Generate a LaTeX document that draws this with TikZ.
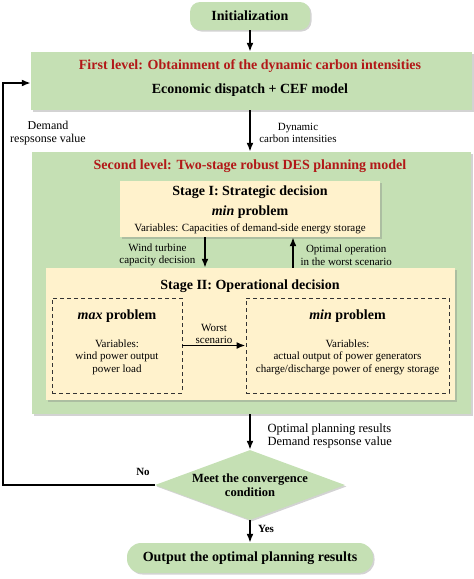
\documentclass[tikz,border=0pt]{standalone}
\usepackage{fontspec}
\setmainfont{Liberation Serif}
\usepackage{tikz}
\usetikzlibrary{shapes,shapes.geometric}
\usetikzlibrary{arrows.meta}
\usetikzlibrary{shadows}
\definecolor{levelgreen}{RGB}{197,224,180}
\definecolor{stageyellow}{RGB}{255,242,204}
\definecolor{titlered}{RGB}{178,24,24}
\tikzset{
	greenbox/.style={fill=levelgreen,draw=none,drop shadow={opacity=0.35,shadow xshift=1.5pt,shadow yshift=-1.5pt}},
	yellowbox/.style={fill=stageyellow,draw=none,drop shadow={opacity=0.35,shadow xshift=1.5pt,shadow yshift=-1.5pt}},
	dashbox/.style={draw=black!80,line width=0.9pt,dash pattern=on 4pt off 3pt},
	headtext/.style={font=\fontsize{14}{16}\selectfont\bfseries},
	redtext/.style={headtext,text=titlered},
	smalltext/.style={font=\fontsize{11}{12.5}\selectfont,align=center},
	arr/.style={line width=1.8pt,-{Latex[length=9pt,width=7pt]}}
}
\begin{document}
\begin{tikzpicture}[x=1pt,y=-1pt]
	\useasboundingbox (0,0) rectangle (474,579);
	
	\node[greenbox,rounded corners=10pt,minimum width=120pt,minimum height=28pt,headtext] (init) at (250,16) {Initialization};
	
	\node[greenbox,minimum width=441pt,minimum height=58pt] (first) at (251.5,81) {};
	\node[redtext] (firsttitle) at (250,66) {First level: Obtainment of the dynamic carbon intensities};
	\node[headtext] (firstmodel) at (250,90) {Economic dispatch + CEF model};
	
	\node[greenbox,minimum width=439pt,minimum height=262pt] (second) at (251.5,283) {};
	\node[redtext] (secondtitle) at (250,166) {Second level: Two-stage robust DES planning model};
	
	\node[yellowbox,minimum width=260pt,minimum height=56pt] (stageI) at (250,209) {};
	\node[headtext] (stageItitle) at (250,192) {Stage I: Strategic decision};
	\node[headtext] (stageImin) at (250,212) {\textit{min} problem};
	\node[smalltext] (stageIvar) at (250,229) {Variables: Capacities of demand-side energy storage};
	
	\node[yellowbox,minimum width=409pt,minimum height=132pt] (stageII) at (250.5,334) {};
	\node[headtext] (stageIItitle) at (250,286) {Stage II: Operational decision};
	
	\node[dashbox,minimum width=130pt,minimum height=95pt] (maxbox) at (117,345.5) {};
	\node[headtext] (maxtitle) at (117,316) {\textit{max} problem};
	\node[smalltext] (maxvar) at (117,357) {Variables:\\wind power output\\power load};
	
	\node[dashbox,minimum width=203pt,minimum height=95pt] (minbox) at (347.5,345.5) {};
	\node[headtext] (mintitle) at (347.5,316) {\textit{min} problem};
	\node[smalltext] (minvar) at (347.5,357) {Variables:\\actual output of power generators\\charge/discharge power of energy storage};
	
	\node[diamond,aspect=2.66,inner sep=0pt,minimum width=190pt,minimum height=70pt,greenbox,font=\fontsize{12.5}{14.5}\selectfont\bfseries,align=center] (cond) at (250,485) {Meet the convergence\\condition};
	
	\node[greenbox,rounded corners=14pt,minimum width=246pt,minimum height=30pt,headtext] (output) at (250,558) {Output the optimal planning results};
	
	\coordinate (fb) at (3,0);
	
	% connectors
	\draw[arr] (init.south) -- (init |- first.north);
	\draw[arr] (init |- first.south) -- (init |- second.north);
	\draw[arr] ([xshift=-45pt]stageI.south) -- ([xshift=-45pt]stageI.south |- stageII.north);
	\draw[arr] ([xshift=42.5pt]stageII.north) -- ([xshift=42.5pt]stageII.north |- stageI.south);
	\draw[arr] (maxbox.east) -- (minbox.west);
	\draw[arr] (init |- second.south) -- (cond.north);
	\draw[arr] (cond.south) -- (output.north);
	\draw[arr] (cond.west) -- (cond.west -| fb) |- ([yshift=-2pt]first.west);
	
	% labels
	\node[smalltext,font=\fontsize{12}{13}\selectfont] (lbldemand) at (48,133) {Demand\\respsonse value};
	\node[smalltext] (lbldynamic) at (298,133) {Dynamic\\carbon intensities};
	\node[smalltext,anchor=east] (lblwind) at (199,255) {Wind turbine\\capacity decision};
	\node[smalltext,anchor=west] (lbloptimal) at (297,255) {Optimal operation\\in the worst scenario};
	\node[smalltext] (lblworst) at (214,334) {Worst\\scenario};
	\node[smalltext,anchor=west,align=left,font=\fontsize{12.5}{13.5}\selectfont] (lblresults) at (264,436) {Optimal planning results\\Demand respsonse value};
	\node[font=\fontsize{11}{13}\selectfont\bfseries] (lblno) at (143,472) {No};
	\node[font=\fontsize{11}{13}\selectfont\bfseries] (lblyes) at (266,529) {Yes};
\end{tikzpicture}
\end{document}
